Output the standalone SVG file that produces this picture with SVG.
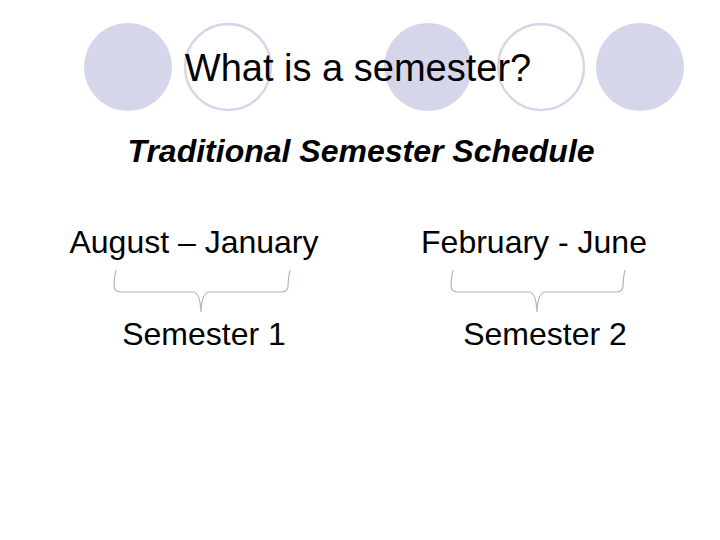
<svg xmlns="http://www.w3.org/2000/svg" width="720" height="540" viewBox="0 0 720 540">
<style>
.f{fill:#d6d6ea}
.o{fill:none;stroke:#d6d6ea;stroke-width:2.5}
text{font-family:"Liberation Sans",Arial,sans-serif;fill:#000;text-anchor:middle}
.t{font-size:38px}
.h{font-size:32px;font-weight:bold;font-style:italic}
.b{font-size:32px}
.br{fill:none;stroke:#b4b4cc;stroke-width:1.2}
</style>
<rect width="720" height="540" fill="#fff"/>
<g id="decor">
<circle class="f" cx="128" cy="67" r="44"/>
<circle class="o" cx="228" cy="67" r="43"/>
<circle class="f" cx="428" cy="67" r="44"/>
<circle class="o" cx="541" cy="67" r="43"/>
<circle class="f" cx="640" cy="67" r="44"/>
</g>
<g id="title"><text class="t" x="358" y="81">What is a semester?</text></g>
<g id="subtitle"><text class="h" x="361" y="162">Traditional Semester Schedule</text></g>
<g id="period1"><text class="b" x="194" y="253">August – January</text></g>
<g id="period2"><text class="b" x="534" y="253">February - June</text></g>
<g id="sem1"><text class="b" x="204" y="345">Semester 1</text></g>
<g id="sem2"><text class="b" x="545" y="345">Semester 2</text></g>
<g id="connectors">
<path class="br" d="M116,270 Q114,278 114,286 Q114,292 122,292 L193,292 Q200,292 201,312 Q202,292 209,292 L281,292 Q288,292 288,286 Q288,278 290,270"/>
<path class="br" d="M453,270 Q451,278 451,286 Q451,292 459,292 L529,292 Q536,292 537,312 Q538,292 545,292 L616,292 Q623,292 623,286 Q623,278 625,270"/>
</g>
</svg>
